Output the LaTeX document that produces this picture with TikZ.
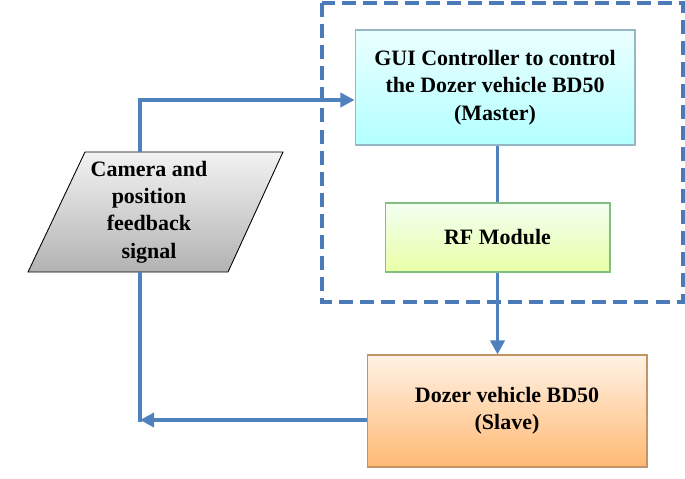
\documentclass[tikz,border=0pt]{standalone}
\usepackage{fontspec}
\setmainfont{Liberation Serif}
\usetikzlibrary{positioning,shapes,arrows.meta}

\definecolor{linkblue}{HTML}{4F81BD}
\definecolor{dashblue}{HTML}{4A7AB8}

\tikzset{
	box/.style={rectangle, line width=0.6pt, align=center, font=\fontsize{12.5}{15.5}\selectfont\bfseries},
	link/.style={draw=linkblue, line width=2.2pt},
	arrow/.style={link, -{Triangle[length=8pt,width=8pt]}}
}

\begin{document}
\begin{tikzpicture}[x=0.02cm, y=-0.02cm]
	\useasboundingbox (0,0) rectangle (685,478);
	% control side
	\draw[dashblue, line width=2.3pt, dash pattern=on 8pt off 4pt] (322,3) rectangle (683,302);
	\node (gui) [box, minimum width=5.6cm, minimum height=2.3cm, top color=cyan!8, bottom color=cyan!30, draw=cyan!50!black!50] at (495,87.5)
	{GUI Controller to control\\ the Dozer vehicle BD50\\ (Master)};
	\node (rf) [box, minimum width=4.5cm, minimum height=1.38cm, top color=green!5, bottom color=green!25!yellow!35, draw=green!50!black!50] at (497.5,237.5)
	{RF Module};
	% vehicle
	\node (dozer) [box, minimum width=5.6cm, minimum height=2.24cm, top color=orange!10, bottom color=orange!55, draw=orange!60!black!60] at (507,411)
	{Dozer vehicle BD50\\ (Slave)};
	% feedback
	\shade[top color=gray!10, bottom color=gray!60, draw=black, line width=0.5pt] (85,152) -- (283,152) -- (228,272) -- (28,272) -- cycle;
	\node (feedback) [align=center, font=\fontsize{12.5}{15.5}\selectfont\bfseries] at (149,212) {Camera and\\ position\\ feedback\\ signal};
	\coordinate (fbtop) at (140,152);
	\coordinate (fbbot) at (140,272);
	\coordinate (guiin) at ([yshift=-0.25cm]gui.west);
	\coordinate (dozerout) at ([yshift=-0.18cm]dozer.west);
	
	\draw[arrow] (fbtop) |- (guiin);
	\draw[link] (rf.north |- gui.south) -- (rf.north);
	\draw[arrow] (rf.south) -- (rf.south |- dozer.north);
	\draw[arrow] (dozerout) -- (fbbot |- dozerout);
	\draw[link] (fbbot) -- ([yshift=-1.1pt]fbbot |- dozerout);
\end{tikzpicture}
\end{document}
